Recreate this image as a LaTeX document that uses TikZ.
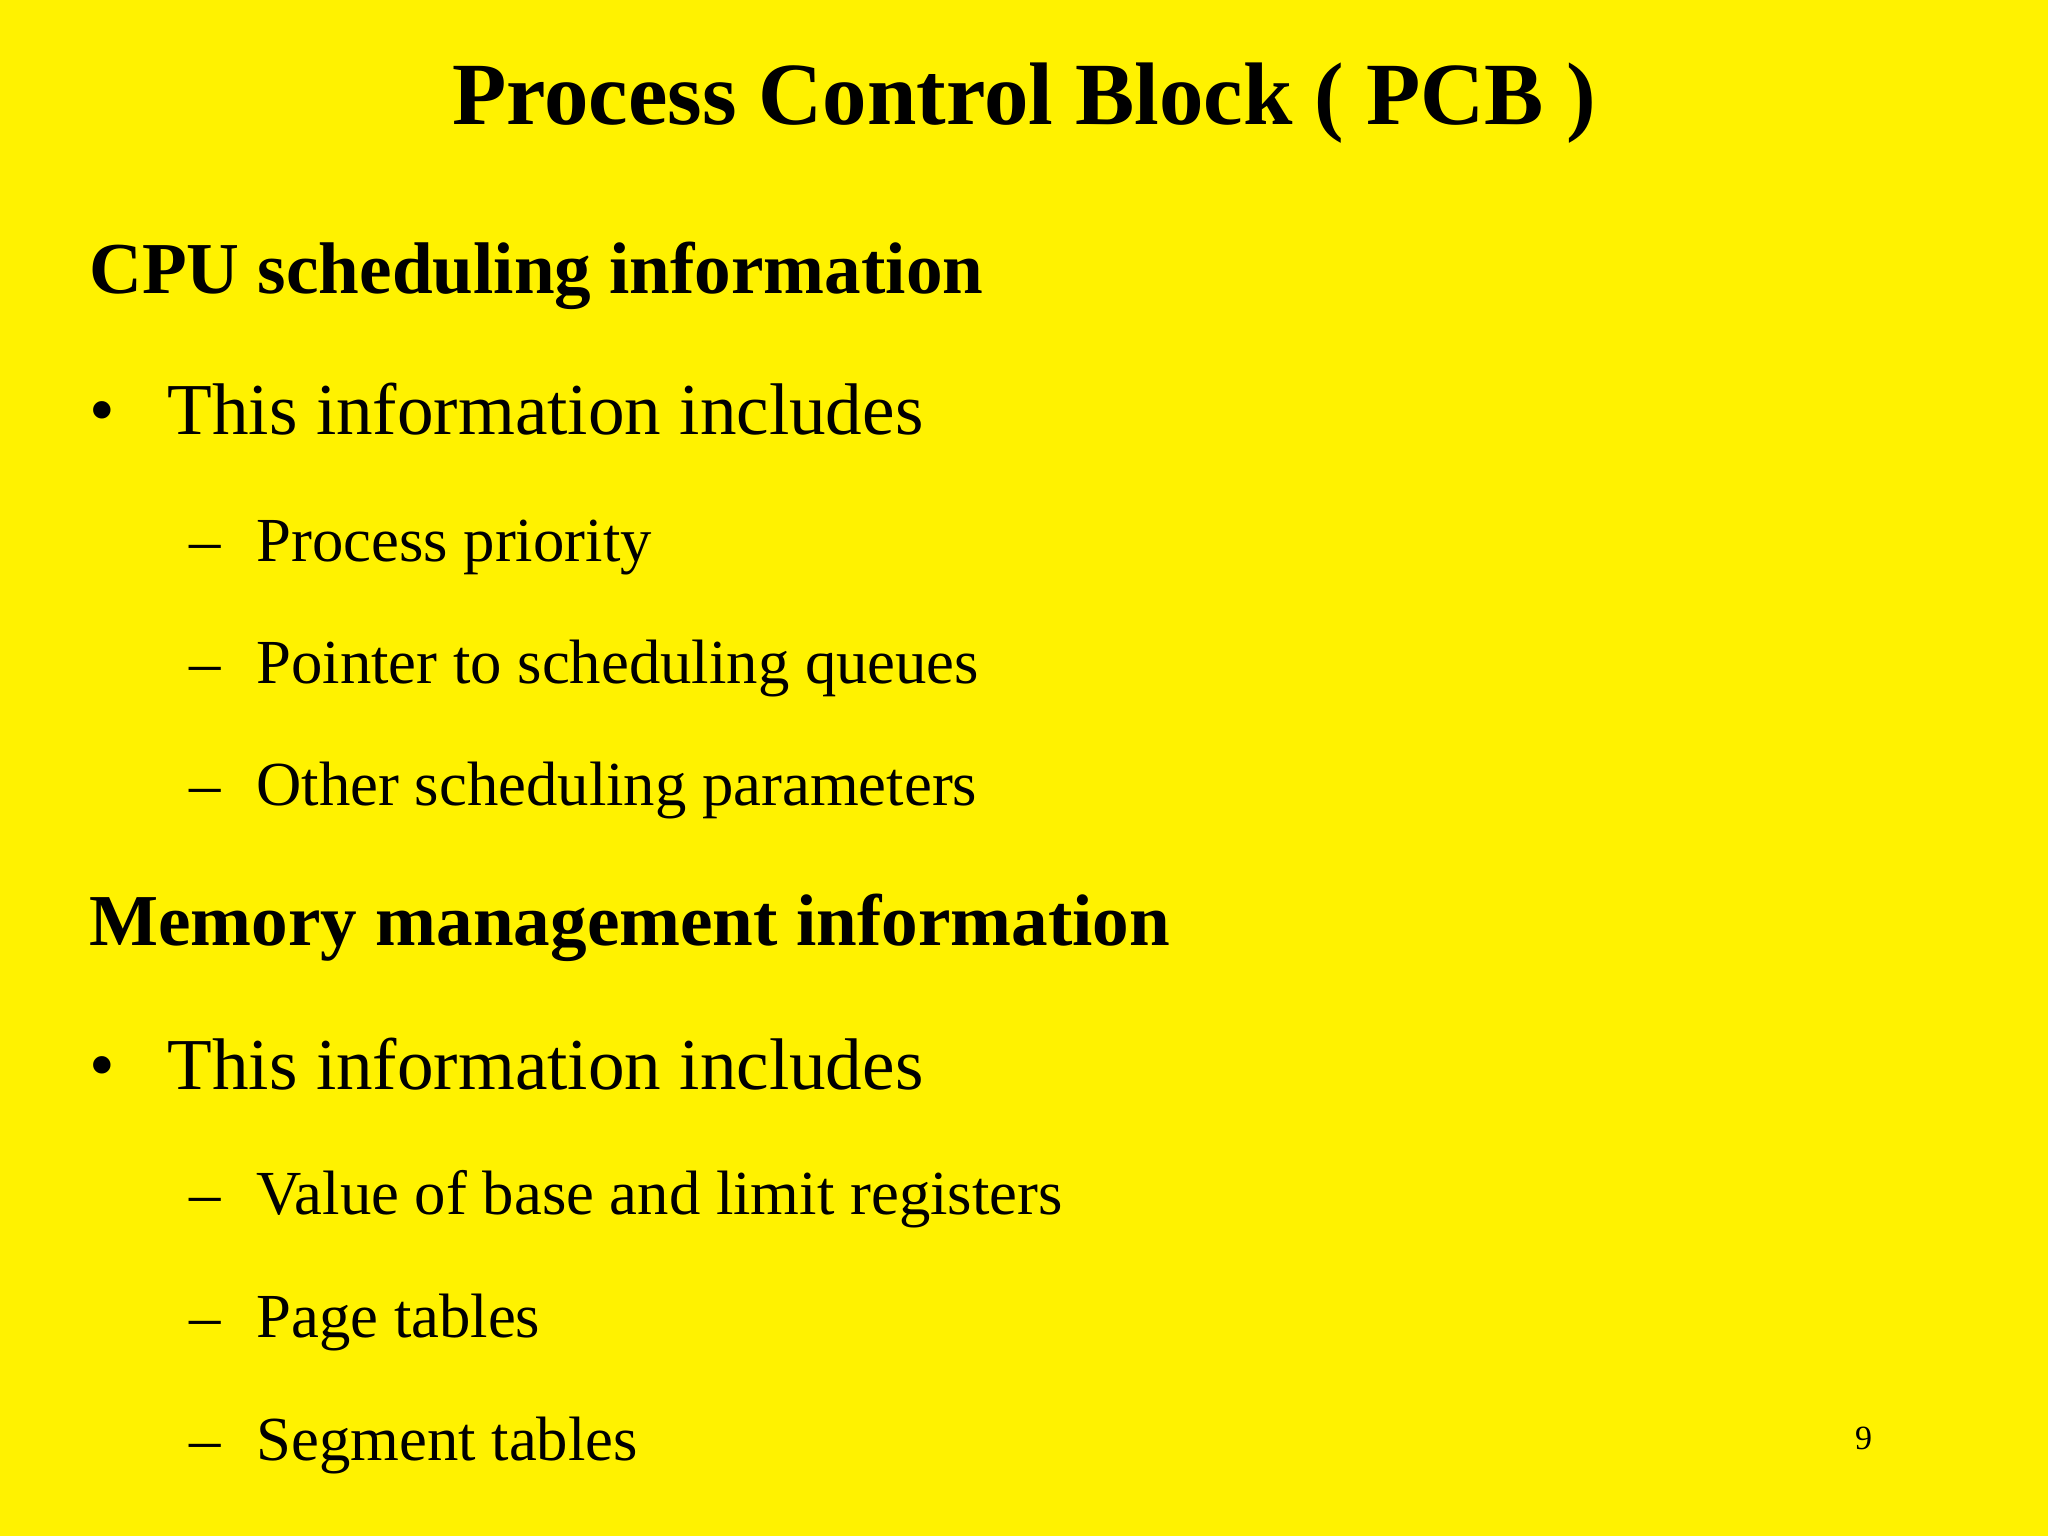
\documentclass[tikz,border=0pt]{standalone}
\usepackage{fontspec}
\setmainfont{Liberation Serif}
\begin{document}
\begin{tikzpicture}[x=0.5pt,y=-0.5pt,
  every node/.style={inner sep=0pt,anchor=base west},
  ttl/.style={font=\fontsize{34}{40}\selectfont\bfseries,anchor=base},
  head/.style={font=\fontsize{28}{34}\selectfont\bfseries},
  bul/.style={font=\fontsize{28}{34}\selectfont},
  sub/.style={font=\fontsize{24}{30}\selectfont}]
\fill[yellow] (0,0) rectangle (1568,1176);
\useasboundingbox (0,0) rectangle (1568,1176);
\node[ttl] (t) at (784,95) {Process Control Block ( PCB )};
\node[head] (h1) at (68,225) {CPU scheduling information};
\node[bul] (b1d) at (68,333) {•};
\node[bul] (b1) at (128,333) {This information includes};
\foreach \y/\s [count=\i] in {430/Process priority,523/Pointer to scheduling queues,617/Other scheduling parameters}{
  \node[sub] (d\i) at (145,\y) {–};
  \node[sub] (s\i) at (196,\y) {\s};
}
\node[head] (h2) at (68,724) {Memory management information};
\node[bul] (b2d) at (68,834) {•};
\node[bul] (b2) at (128,834) {This information includes};
\foreach \y/\s [count=\i] in {930/Value of base and limit registers,1024/Page tables,1118/Segment tables}{
  \node[sub] (e\i) at (145,\y) {–};
  \node[sub] (m\i) at (196,\y) {\s};
}
\node[font=\fontsize{13}{15}\selectfont] (pg) at (1420,1110) {9};
\end{tikzpicture}
\end{document}
